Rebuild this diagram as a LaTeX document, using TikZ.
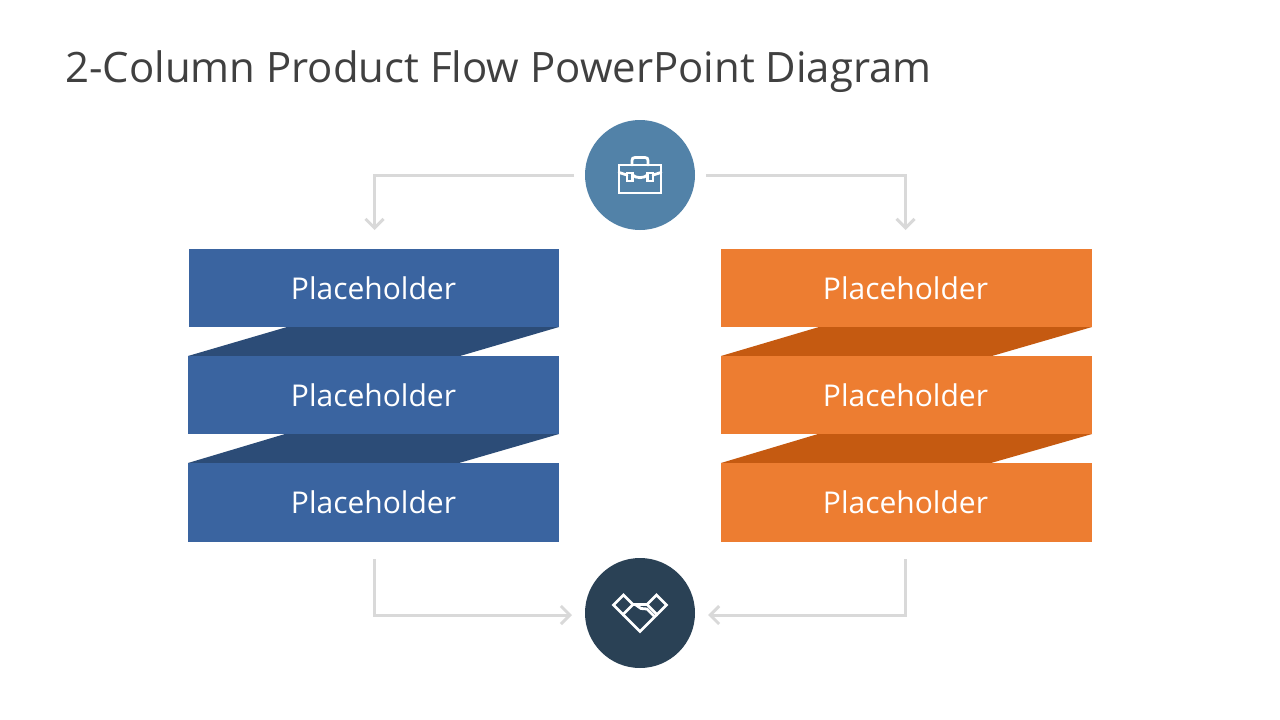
\documentclass[tikz,border=0pt]{standalone}
\usepackage{fontspec}
\setmainfont{Open Sans}
\usetikzlibrary{arrows.meta}
\definecolor{bluebox}{HTML}{3A64A0}
\definecolor{bluefold}{HTML}{2C4C77}
\definecolor{orangebox}{HTML}{ED7D31}
\definecolor{orangefold}{HTML}{C55A11}
\definecolor{topdisc}{HTML}{5282A8}
\definecolor{botdisc}{HTML}{2A4155}
\definecolor{linkgrey}{HTML}{D9D9D9}
\definecolor{titlegrey}{HTML}{404040}
\tikzset{
  x=1pt,y=-1pt,
  band/.style={draw=none,inner sep=0pt,outer sep=0pt,minimum width=371pt,minimum height=78.5pt,text=white,font=\fontsize{30}{35}\selectfont},
  disc/.style={circle,draw=none,inner sep=0pt,outer sep=0pt,minimum size=110pt},
  link/.style={draw=linkgrey,line width=3pt,-{Straight Barb[length=9pt,width=18pt,line width=3pt]}},
  icon/.style={draw=white,line width=2.8pt,line join=miter,line cap=round},
}
\begin{document}
\begin{tikzpicture}
\useasboundingbox (0,0) rectangle (1280,720);
\fill[white] (0,0) rectangle (1280,720);
\node[anchor=west,inner sep=0pt,text=titlegrey,font=\fontsize{41.9}{49}\selectfont] (title) at (65,71.5) {2-Column Product Flow PowerPoint Diagram};
% fold shapes
\fill[bluefold] (287,327) -- (559,327) -- (460,356) -- (188,356) -- cycle;
\fill[bluefold] (285,434) -- (559,434) -- (459,463) -- (188,463) -- cycle;
\fill[orangefold] (819,327) -- (1092,327) -- (992,356) -- (721,356) -- cycle;
\fill[orangefold] (818,434) -- (1092,434) -- (991,463) -- (721,463) -- cycle;
% bands
\node[band,fill=bluebox,minimum width=370pt] (b1) at (374,288) {Placeholder\kern1pt};
\node[band,fill=bluebox] (b2) at (373.5,395) {Placeholder};
\node[band,fill=bluebox] (b3) at (373.5,502.5) {Placeholder};
\node[band,fill=orangebox] (o1) at (906.5,288) {Placeholder\kern2pt};
\node[band,fill=orangebox] (o2) at (906.5,395) {Placeholder\kern2pt};
\node[band,fill=orangebox] (o3) at (906.5,502.5) {Placeholder\kern2pt};
% discs
\node[disc,fill=topdisc] (top) at (640,175) {};
\node[disc,fill=botdisc] (bot) at (640,613) {};
% connector ends
\coordinate (b1in) at (374.5,249);
\coordinate (o1in) at (905.5,249);
\coordinate (b3out) at (374.5,542);
\coordinate (o3out) at (905.5,542);
\coordinate (botl) at (585,615);
\coordinate (botr) at (695,615);
% connectors
\draw[link,shorten <=11pt,shorten >=19pt] (top.west) -| (b1in);
\draw[link,shorten <=11pt,shorten >=19pt] (top.east) -| (o1in);
\draw[link,shorten <=17pt,shorten >=13pt] (b3out) |- (botl);
\draw[link,shorten <=17pt,shorten >=13pt] (o3out) |- (botr);
% briefcase
\draw[icon] (619,165) rectangle (661,193);
\draw[icon] (632,165) -- (632,160.5) .. controls (632,158.5) and (633,157.5) .. (635,157.5) -- (645,157.5) .. controls (647,157.5) and (648,158.5) .. (648,160.5) -- (648,165);
\draw[icon] (627,173) rectangle (632.5,181);
\draw[icon] (647.5,173) rectangle (653,181);
\draw[icon] (619,172.5) -- (627,175);
\draw[icon] (661,172.5) -- (653,175);
\draw[icon] (632.5,175) .. controls (636,178.5) and (644,178.5) .. (647.5,175);
% handshake
\draw[icon] (613.5,605) -- (623.5,595) -- (633,604.5) -- (623,614.5) -- cycle;
\draw[icon] (666.5,605) -- (656.5,595) -- (647,604.5) -- (657,614.5) -- cycle;
\draw[icon] (623,614.5) -- (640,631.5) -- (657,614.5);
\draw[icon] (633,604.5) -- (647,604.5);
\draw[icon] (636,605) -- (641,608.5) -- (647,609) -- (654,616);
\end{tikzpicture}
\end{document}
